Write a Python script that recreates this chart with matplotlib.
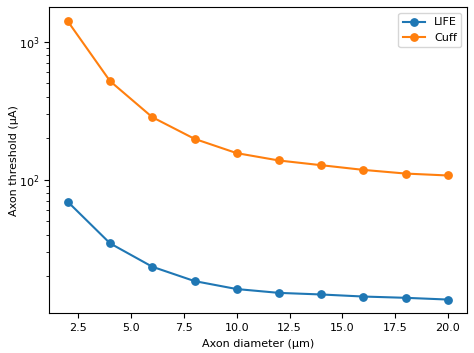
import matplotlib
matplotlib.use('Agg')
import matplotlib.pyplot as plt

# %% data
diameters = [2, 4, 6, 8, 10, 12, 14, 16, 18, 20]
life_threshold = [69.3, 34.7, 23.5, 18.5, 16.2, 15.2, 14.8, 14.3, 14.0, 13.6]
cuff_threshold = [1403, 518, 284, 198, 156, 138, 127.6, 118, 111, 107.5]

# %%
fig = plt.figure(figsize=(4.74, 3.53), dpi=100)
ax = fig.add_axes([0.103, 0.112, 0.882, 0.867])
ax.plot(diameters, life_threshold, marker='o', markersize=5.3, label='LIFE')
ax.plot(diameters, cuff_threshold, marker='o', markersize=5.3, label='Cuff')
ax.set_yscale('log')
ax.set_xlabel('Axon diameter (μm)', fontsize=8)
ax.set_ylabel('Axon threshold (μA)', fontsize=8, labelpad=0)
ax.tick_params(labelsize=8)
ax.legend(fontsize=8)

fig.savefig('out.png', dpi=100)
